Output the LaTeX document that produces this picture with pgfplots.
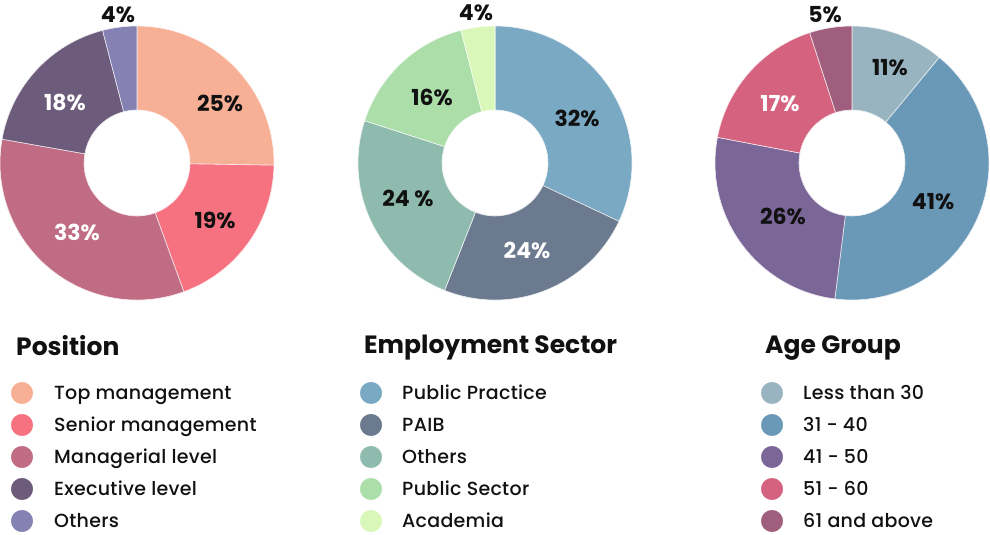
\documentclass[border=0pt]{standalone}
\usepackage{pgfplots}
\pgfplotsset{compat=1.18}
\usepackage{pgfplotstable}
\usepackage{fontspec}
\setmainfont{Poppins}
\newfontfamily\medfam{Poppins Medium}[LetterSpace=1.5]
\usetikzlibrary{calc}

\definecolor{p1a}{HTML}{F7B096}
\definecolor{p1b}{HTML}{F67280}
\definecolor{p1c}{HTML}{C06C84}
\definecolor{p1d}{HTML}{6C5B7B}
\definecolor{p1e}{HTML}{8581B3}
\definecolor{p2a}{HTML}{79A9C3}
\definecolor{p2b}{HTML}{6B7A8F}
\definecolor{p2c}{HTML}{8FBBAE}
\definecolor{p2d}{HTML}{ABDEA9}
\definecolor{p2e}{HTML}{D9F7B8}
\definecolor{p3a}{HTML}{99B4C1}
\definecolor{p3b}{HTML}{6A98B7}
\definecolor{p3c}{HTML}{7B6698}
\definecolor{p3d}{HTML}{D5627E}
\definecolor{p3e}{HTML}{A05E7F}
\definecolor{txt}{HTML}{111111}

\pgfplotstableread{
name value color
{Top management} 25 p1a
{Senior management} 19 p1b
{Managerial level} 33 p1c
{Executive level} 18 p1d
{Others} 4 p1e
}\posdata

\pgfplotstableread{
name value color
{Public Practice} 32 p2a
{PAIB} 24 p2b
{Others} 24 p2c
{Public Sector} 16 p2d
{Academia} 4 p2e
}\secdata

\pgfplotstableread{
name value color
{Less than 30} 11 p3a
{31 - 40} 41 p3b
{41 - 50} 26 p3c
{51 - 60} 17 p3d
{61 and above} 5 p3e
}\agedata

\newcommand\legfont{\medfam\fontsize{19}{21}\selectfont}
\newcommand\titfont{\bfseries\fontsize{25}{26}\selectfont}
\newcommand\labfont{\bfseries\fontsize{22}{23}\selectfont}

% #1 table, #2 cx, #3 cy, #4 legend circle x, #5 legend text x
\newcommand\donut[5]{%
  \gdef\total{0}%
  \pgfplotstableforeachcolumnelement{value}\of#1\as\v{\pgfmathparse{\total+\v}\xdef\total{\pgfmathresult}}%
  \gdef\cum{0}%
  \pgfplotstableforeachcolumnelement{value}\of#1\as\v{%
    \pgfplotstablegetelem{\pgfplotstablerow}{color}\of#1\let\col\pgfplotsretval
    \pgfplotstablegetelem{\pgfplotstablerow}{name}\of#1\let\nm\pgfplotsretval
    \pgfmathparse{90-(\cum/\total)*360}\let\aa\pgfmathresult
    \pgfmathparse{\cum+\v}\xdef\cum{\pgfmathresult}%
    \pgfmathparse{90-(\cum/\total)*360}\let\ab\pgfmathresult
    \pgfmathparse{142-32*\pgfplotstablerow}\let\ly\pgfmathresult
    \pgfmathparse{135-32*\pgfplotstablerow}\let\by\pgfmathresult
    \edef\tmp{%
      \noexpand\fill[\col, draw=white!85!\col, line width=0.6pt] ($(axis cs:#2,#3)+(\aa:137pt)$) arc[start angle=\aa, end angle=\ab, radius=137pt] -- ($(axis cs:#2,#3)+(\ab:53pt)$) arc[start angle=\ab, end angle=\aa, radius=53pt] -- cycle;
      \noexpand\addplot[only marks, mark=*, mark size=10.8, color=\col] coordinates {(#4,\ly)};
      \noexpand\node[anchor=base west, font=\noexpand\legfont, text=txt, inner sep=0pt] at (axis cs:#5,\by) {\nm};
    }\tmp
  }%
}

\begin{document}
\begin{tikzpicture}
\begin{axis}[scale only axis, width=990pt, height=535pt,
  xmin=0, xmax=990, ymin=0, ymax=535, hide axis, clip=false]
\donut{\posdata}{137}{372}{22}{54}
\donut{\secdata}{495}{372}{371}{402}
\donut{\agedata}{852}{372}{772}{803}

\tikzset{lab/.style={font=\labfont, anchor=center, inner sep=0pt, text=txt}}
% Position
\node[lab] at (axis cs:118,520) {4\%};
\node[lab] at (axis cs:220,432) {25\%};
\node[lab] at (axis cs:215,315) {19\%};
\node[lab, text=white] at (axis cs:77,303) {33\%};
\node[lab, text=white] at (axis cs:65,433) {18\%};
% Sector
\node[lab] at (axis cs:476,522) {4\%};
\node[lab] at (axis cs:577,417) {32\%};
\node[lab, text=white] at (axis cs:527,285) {24\%};
\node[lab] at (axis cs:408,337) {24 \%};
\node[lab] at (axis cs:432,438) {16\%};
% Age
\node[lab] at (axis cs:825,520) {5\%};
\node[lab] at (axis cs:890,467) {11\%};
\node[lab] at (axis cs:933,333) {41\%};
\node[lab] at (axis cs:783,319) {26\%};
\node[lab, text=white] at (axis cs:780,431) {17\%};

% titles
\node[anchor=base west, font=\titfont, text=txt, inner sep=0pt] at (axis cs:16,179) {Position};
\node[anchor=base west, font=\titfont, text=txt, inner sep=0pt] at (axis cs:364,181) {Employment Sector};
\node[anchor=base west, font=\titfont, text=txt, inner sep=0pt] at (axis cs:765,181) {Age Group};
\end{axis}
\pgfresetboundingbox
\path[use as bounding box] (current axis.south west) rectangle (current axis.north east);
\end{tikzpicture}
\end{document}
